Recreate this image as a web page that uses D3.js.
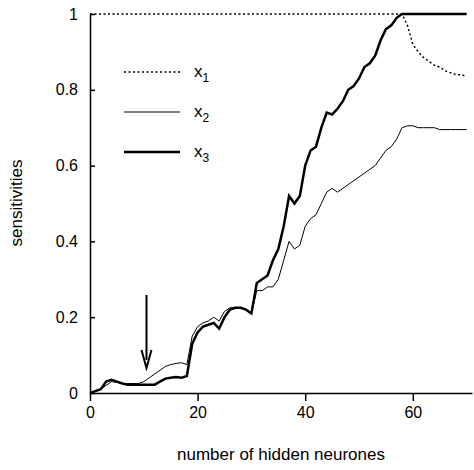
<!DOCTYPE html>
<html><head><meta charset="utf-8">
<script src="https://cdn.jsdelivr.net/npm/d3@7"></script>
<style>body{margin:0;background:#fff}text{font-family:"Liberation Sans",Arial,sans-serif}</style>
</head><body>
<svg id="c" width="474" height="470"></svg>
<script>
const xs = d3.range(0,71);
const x1 = [1,1,1,1,1,1,1,1,1,1,1,1,1,1,1,1,1,1,1,1,1,1,1,1,1,1,1,1,1,1,1,1,1,1,1,1,1,1,1,1,1,1,1,1,1,1,1,1,1,1,1,1,1,1,1,1,1,1,1,0.97,0.92,0.9,0.885,0.875,0.865,0.86,0.85,0.845,0.84,0.84,0.835];
const x2 = [0,0.005,0.01,0.02,0.03,0.028,0.025,0.025,0.025,0.025,0.03,0.04,0.05,0.06,0.07,0.075,0.078,0.08,0.075,0.15,0.175,0.185,0.19,0.2,0.19,0.215,0.225,0.225,0.225,0.22,0.21,0.27,0.27,0.28,0.28,0.3,0.35,0.4,0.38,0.39,0.44,0.46,0.47,0.5,0.53,0.54,0.53,0.54,0.55,0.56,0.57,0.58,0.59,0.6,0.62,0.64,0.65,0.67,0.7,0.705,0.705,0.7,0.7,0.7,0.7,0.695,0.695,0.695,0.695,0.695,0.695];
const x3 = [0,0.005,0.01,0.03,0.035,0.03,0.025,0.022,0.022,0.022,0.022,0.022,0.022,0.03,0.038,0.04,0.042,0.04,0.045,0.13,0.16,0.175,0.18,0.185,0.17,0.2,0.22,0.225,0.225,0.22,0.21,0.29,0.3,0.31,0.35,0.38,0.44,0.52,0.5,0.52,0.6,0.64,0.65,0.7,0.74,0.735,0.75,0.77,0.8,0.81,0.83,0.86,0.87,0.89,0.93,0.96,0.97,0.99,1,1,1,1,1,1,1,1,1,1,1,1,1];
const xTicks = [0,20,40,60];
const yTicks = [0,0.2,0.4,0.6,0.8,1];
const yTickLabels = ["0","0.2","0.4","0.6","0.8","1"];
const arrowX = 10.5;

const svg = d3.select("#c");
const x = d3.scaleLinear().domain([0,71]).range([90,472]);
const y = d3.scaleLinear().domain([0,1]).range([393,14]);

svg.append("g").attr("transform","translate(0,393)")
  .call(d3.axisBottom(x).tickValues(xTicks).tickSize(8).tickSizeOuter(0))
  .call(g=>{g.selectAll("text").attr("font-size",16).attr("dy","0.9em");g.selectAll("line,path").attr("stroke-width",1.5);});
svg.append("g").attr("transform","translate(90,0)")
  .call(d3.axisLeft(y).tickValues(yTicks).tickFormat((d,i)=>yTickLabels[i]).tickSize(-5).tickSizeOuter(0).tickPadding(12))
  .call(g=>{g.selectAll("text").attr("font-size",16);g.selectAll("line,path").attr("stroke-width",1.5);});

const line = arr => d3.line().x((d,i)=>x(xs[i])).y(d=>y(d))(arr);
svg.append("path").attr("d",line(x1)).attr("fill","none").attr("stroke","#000").attr("stroke-width",1.5).attr("stroke-dasharray","2,2.5");
svg.append("path").attr("d",line(x2)).attr("fill","none").attr("stroke","#000").attr("stroke-width",1);
svg.append("path").attr("d",line(x3)).attr("fill","none").attr("stroke","#000").attr("stroke-width",2.5);

// arrow
svg.append("line").attr("x1",x(arrowX)).attr("x2",x(arrowX)).attr("y1",295).attr("y2",360).attr("stroke","#000").attr("stroke-width",2);
svg.append("path").attr("d",`M${x(arrowX)-5},350 L${x(arrowX)},368 L${x(arrowX)+5},350`).attr("fill","none").attr("stroke","#000").attr("stroke-width",2);

// legend
const leg = [{n:"1",w:1.5,d:"2,2.5"},{n:"2",w:1,d:null},{n:"3",w:2.5,d:null}];
leg.forEach((l,i)=>{
  const yy = 72+i*40;
  svg.append("line").attr("x1",124).attr("x2",180).attr("y1",yy).attr("y2",yy).attr("stroke","#000").attr("stroke-width",l.w).attr("stroke-dasharray",l.d);
  const t = svg.append("text").attr("x",194).attr("y",yy+5).attr("font-size",17).text("x");
  t.append("tspan").attr("font-size",12).attr("dy",5).text(l.n);
});

svg.append("text").attr("x",281).attr("y",460).attr("text-anchor","middle").attr("font-size",17).text("number of hidden neurones");
svg.append("text").attr("transform","translate(22,203) rotate(-90)").attr("text-anchor","middle").attr("font-size",17).text("sensitivities");
</script>
</body></html>
